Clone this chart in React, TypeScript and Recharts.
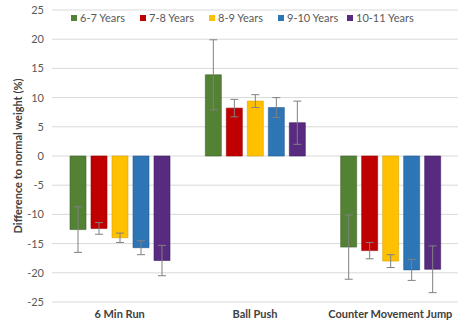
import { BarChart, Bar, XAxis, YAxis, CartesianGrid, ErrorBar } from 'recharts';

const tests = ['6 Min Run', 'Ball Push', 'Counter Movement Jump'];
const ageGroups = ['6-7 Years', '7-8 Years', '8-9 Years', '9-10 Years', '10-11 Years'];
const colors = ['#548235', '#C00000', '#FFC000', '#2E75B6', '#582A80'];
const outlines = ['#3f6328', '#9a0000', '#d9a300', '#245d91', '#421f61'];

// mean difference per age group, one value per test
const means = [
  [-12.6, 13.9, -15.6],
  [-12.4, 8.2, -16.2],
  [-14.0, 9.4, -18.0],
  [-15.7, 8.3, -19.5],
  [-17.9, 5.7, -19.4],
];
// error bar half-length
const errors = [
  [3.9, 6.0, 5.5],
  [1.0, 1.5, 1.4],
  [0.8, 1.1, 1.1],
  [1.2, 1.7, 1.8],
  [2.6, 3.7, 4.0],
];
const yTicks = [-25, -20, -15, -10, -5, 0, 5, 10, 15, 20, 25];

const data = tests.map((test, i) => {
  const row: Record<string, string | number> = { test };
  ageGroups.forEach((g, s) => {
    row[g] = means[s][i];
    row[g + '_err'] = errors[s][i];
  });
  return row;
});

const font = 'Lato, "Open Sans", sans-serif';

function LegendBox() {
  return (
    <div
      style={{
        position: 'absolute', top: 12, left: 0, display: 'flex', paddingLeft: 71,
        fontFamily: font, fontSize: 11, color: '#595959', lineHeight: '12px',
      }}
    >
      {ageGroups.map((g, i) => (
        <div key={g} style={{ width: 69, display: 'flex', alignItems: 'center' }}>
          <span style={{ width: 6, height: 6, background: colors[i], marginRight: 3, display: 'inline-block' }} />
          {g}
        </div>
      ))}
    </div>
  );
}

export default function App() {
  return (
    <div style={{ position: 'fixed', left: 0, top: 0, width: 474, height: 321, background: '#fff' }}>
      <BarChart
        width={474}
        height={321}
        data={data}
        margin={{ top: 10, right: 16, bottom: 0, left: 0 }}
        barSize={16}
        barGap={5}
      >
        <CartesianGrid vertical={false} stroke="#d9d9d9" />
        <XAxis
          dataKey="test"
          axisLine={false}
          tickLine={false}
          tickSize={0}
          tickMargin={8}
          height={19}
          interval={0}
          tick={{ fill: '#404040', fontSize: 11, fontWeight: 700, fontFamily: font }}
        />
        <YAxis
          domain={[-25, 25]}
          ticks={yTicks}
          width={52}
          axisLine={false}
          tickLine={false}
          tickSize={0}
          tickMargin={8}
          tick={{ fill: '#595959', fontSize: 11, fontFamily: font }}
          label={{
            value: 'Difference to normal weight (%)',
            angle: -90,
            position: 'insideLeft',
            offset: 18,
            style: { textAnchor: 'middle', fill: '#404040', fontSize: 11, fontWeight: 700, fontFamily: font },
          }}
        />
        {ageGroups.map((g, i) => (
          <Bar key={g} dataKey={g} fill={colors[i]} stroke={outlines[i]} strokeWidth={0.6} isAnimationActive={false}>
            <ErrorBar dataKey={g + '_err'} stroke="#808080" strokeWidth={1} width={4} />
          </Bar>
        ))}
      </BarChart>
      <LegendBox />
    </div>
  );
}
